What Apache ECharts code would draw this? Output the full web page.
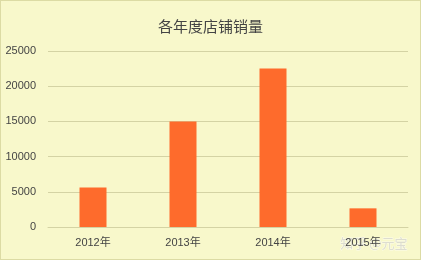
<!DOCTYPE html>
<html>
<head>
<meta charset="utf-8">
<script src="https://cdn.jsdelivr.net/npm/echarts@6/dist/echarts.min.js"></script>
<style>
  html, body { margin: 0; padding: 0; }
  #main {
    width: 421px;
    height: 260px;
    box-sizing: border-box;
    border: 1px solid #dcdba4;
    background: #f8f8cb;
  }
</style>
</head>
<body>
<div id="main"></div>
<script>
const years = ['2012年', '2013年', '2014年', '2015年']
const sales = [5600, 15000, 22500, 2650]

const myChart = echarts.init(document.getElementById('main'))
myChart.setOption({
  backgroundColor: 'transparent',
  textStyle: { fontFamily: 'Liberation Sans, Noto Sans CJK SC' },
  title: {
    text: '各年度店铺销量',
    left: 'center',
    top: 13,
    textStyle: { fontSize: 15, fontWeight: 'normal', color: '#444', fontFamily: 'Noto Sans CJK SC' },
  },
  grid: { left: 47, right: 12, top: 50, bottom: 32 },
  xAxis: {
    type: 'category',
    data: years,
    axisLine: { lineStyle: { color: '#d4d3a4' } },
    axisTick: { show: false },
    axisLabel: { color: '#444', fontSize: 11, margin: 10 },
  },
  yAxis: {
    type: 'value',
    min: 0,
    max: 25000,
    interval: 5000,
    axisLine: { show: false },
    axisTick: { show: false },
    axisLabel: {
      color: '#444',
      fontSize: 11,
      margin: 12,
      formatter: function (value) {
        return String(value)
      },
    },
    splitLine: { lineStyle: { color: '#d4d3a4' } },
  },
  color: ['#fe6b2c'],
  series: [
    {
      name: '销量',
      type: 'bar',
      barWidth: 27,
      data: sales,
    },
  ],
  graphic: [
    {
      type: 'text',
      right: 12,
      bottom: 9,
      style: {
        text: '知乎 @元宝',
        fontSize: 13,
        fontFamily: 'Noto Sans CJK SC',
        fill: 'rgba(200,200,190,0.6)',
        stroke: 'rgba(255,255,255,0.6)',
        lineWidth: 1,
      },
    },
  ],
})
</script>
</body>
</html>
